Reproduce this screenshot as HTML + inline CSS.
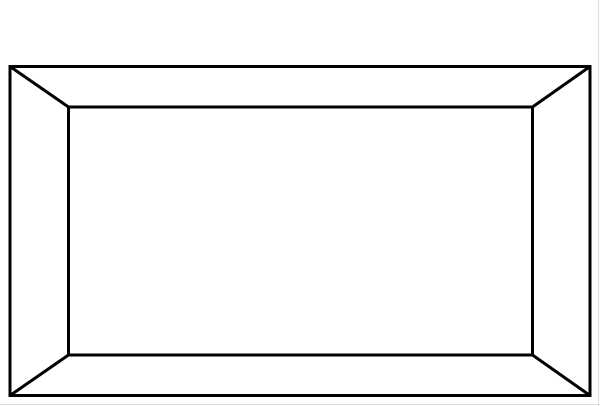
<!DOCTYPE html>
<html><head><style>html,body{margin:0;padding:0;background:#fff;}svg{display:block;}</style></head>
<body>
<svg width="600" height="406" viewBox="0 0 600 406" xmlns="http://www.w3.org/2000/svg">
<line x1="598.5" y1="0" x2="598.5" y2="406" stroke="#ddd" stroke-width="1"/>
<line x1="0" y1="404.5" x2="600" y2="404.5" stroke="#ddd" stroke-width="1"/>
<g fill="none" stroke="#000" stroke-width="3" stroke-linejoin="miter">
<rect x="10" y="66.5" width="580" height="329"/>
<rect x="68.5" y="107" width="464" height="248"/>
<line x1="10" y1="66.5" x2="68.5" y2="107"/>
<line x1="590" y1="66.5" x2="532.5" y2="107"/>
<line x1="10" y1="395.5" x2="68.5" y2="355"/>
<line x1="590" y1="395.5" x2="532.5" y2="355"/>
</g>
</svg>
</body></html>
